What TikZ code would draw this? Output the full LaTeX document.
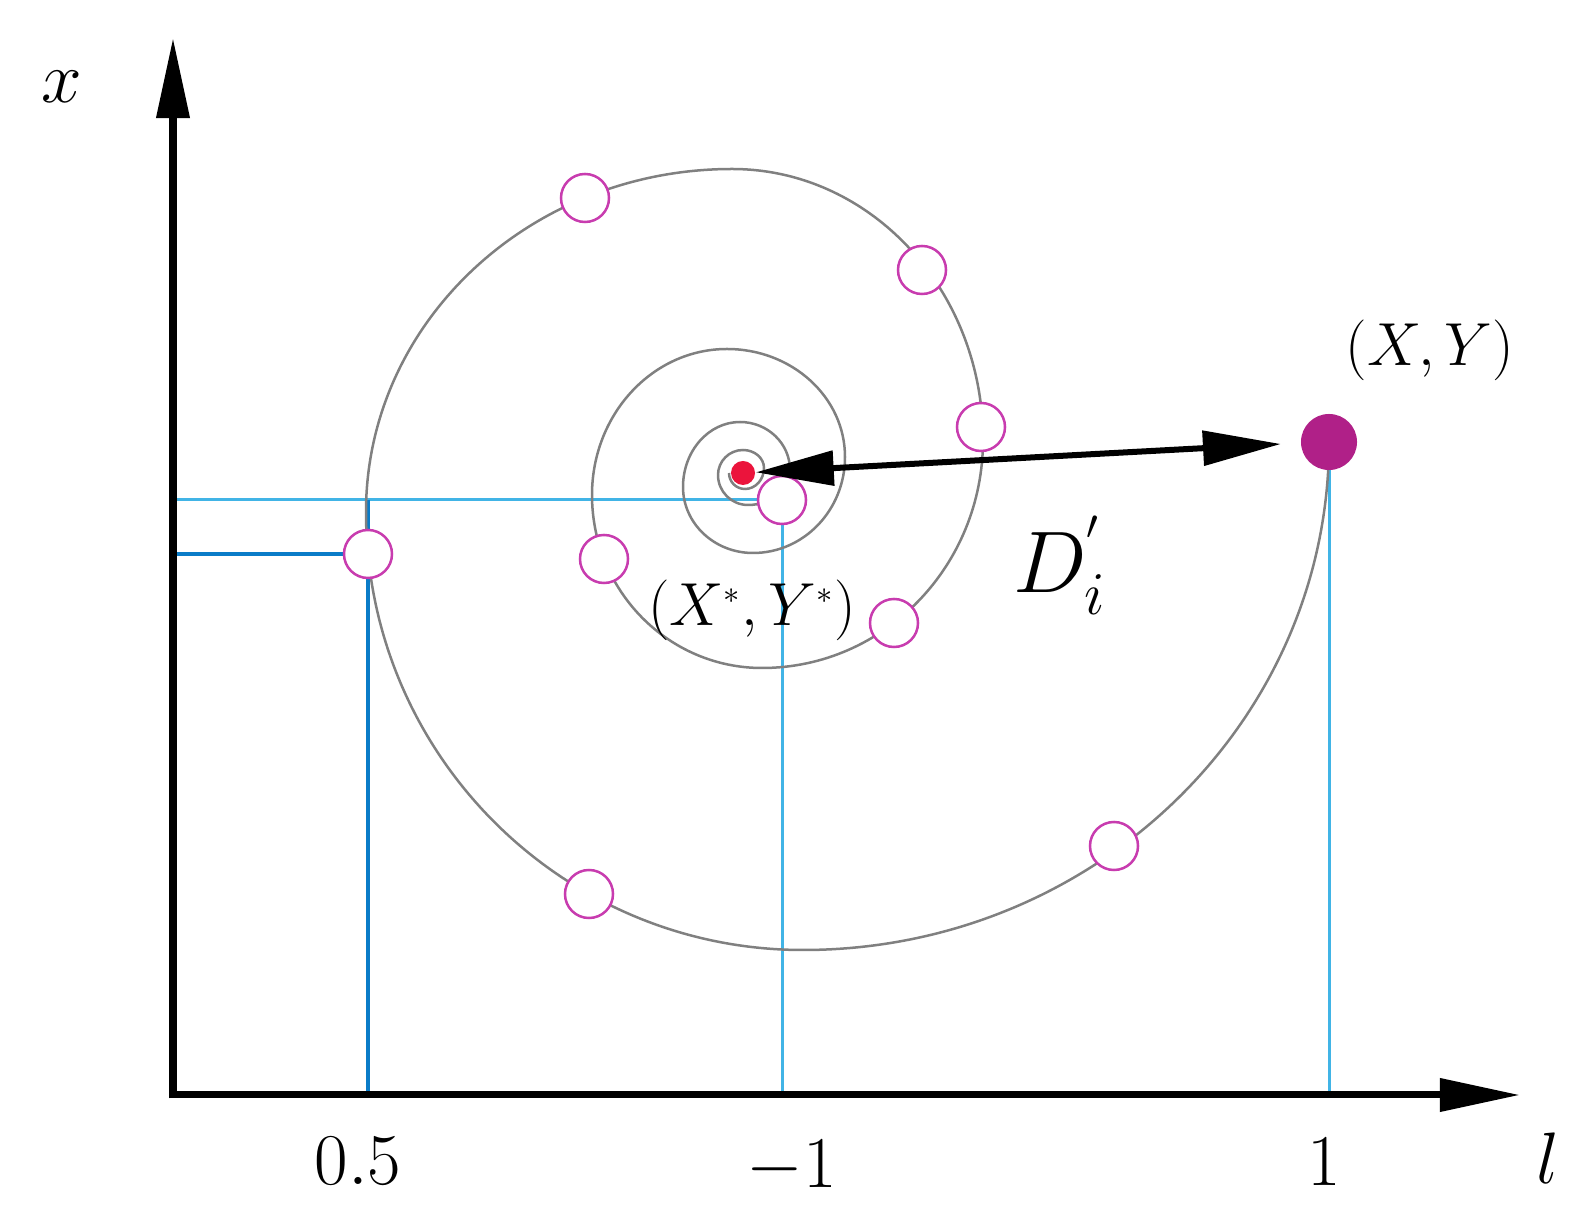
\documentclass[tikz,border=0pt]{standalone}
\usetikzlibrary{arrows.meta,calc}
\definecolor{lblue}{RGB}{65,180,230}
\definecolor{dblue}{RGB}{10,124,200}
\definecolor{mag}{RGB}{200,60,175}
\definecolor{purp}{RGB}{176,32,136}
\definecolor{rdot}{RGB}{235,20,60}
\definecolor{spir}{RGB}{128,128,128}
\begin{document}
\begin{tikzpicture}[x=0.01cm,y=-0.01cm,
  axisline/.style={line width=0.07cm, -{Triangle[length=0.8cm,width=0.32cm]}},
  lbl/.style={lblue, line width=0.03cm},
  dbl/.style={dblue, line width=0.04cm},
  samp/.style={circle, draw=mag, line width=0.025cm, fill=white, minimum size=0.48cm, inner sep=0pt},
  spiralline/.style={spir, line width=0.025cm},
  lab/.style={inner sep=0pt, font=\fontsize{20}{24}\selectfont},
  ptlab/.style={inner sep=0pt, font=\fontsize{19}{23}\selectfont},
  dist/.style={line width=0.06cm, {Triangle[length=0.78cm,width=0.34cm]}-{Triangle[length=0.78cm,width=0.34cm]}},
]
\useasboundingbox (0,0) rectangle (1593,1222);
% origin and axis ends
\coordinate (O) at (173,1095);
\coordinate (ytip) at (173,38);
\coordinate (xtip) at (1520,1095);
% sample circles positions (defined first as coordinates for lines)
\coordinate (p4) at (368,554);
\coordinate (p9) at (782,500);
\coordinate (pP) at (1329,442);
% blue projection lines
\draw[lbl] (O |- p9) -- ($(p9)+(-24,0)$);
\draw[lbl] ($(p9)+(0,24)$) -- (p9 |- O);
\draw[lbl] (pP) -- (pP |- O);
\draw[dbl] (O |- p4) -- (p4);
\draw[dbl] (p4 |- p9) -- (p4 |- O);
% spiral extremes (R = right, B = bottom, L = left, T = top)
\coordinate (R0) at (1329,442);
\coordinate (B0) at (803,950);
\coordinate (L0) at (366,512);
\coordinate (T0) at (732,169);
\coordinate (R1) at (983,440);
\coordinate (B1) at (762,668);
\coordinate (L1) at (592,495);
\coordinate (T1) at (727,349);
\coordinate (R2) at (845,457);
\coordinate (B2) at (753,553);
\coordinate (L2) at (683,487);
\coordinate (T2) at (740,422);
\coordinate (R3) at (790,470);
\coordinate (B3) at (748,505);
\coordinate (L3) at (718,475);
\coordinate (T3) at (743,450);
\coordinate (R4) at (764,468);
\coordinate (B4) at (745,489);
\coordinate (L4) at (729,473);
\def\kk{0.5523}
\draw[spiralline]
 (R0) .. controls ($(R0)!\kk!(R0|-B0)$) and ($(B0)!\kk!(R0|-B0)$) .. (B0)
      .. controls ($(B0)!\kk!(L0|-B0)$) and ($(L0)!\kk!(L0|-B0)$) .. (L0)
      .. controls ($(L0)!\kk!(L0|-T0)$) and ($(T0)!\kk!(L0|-T0)$) .. (T0)
      .. controls ($(T0)!\kk!(R1|-T0)$) and ($(R1)!\kk!(R1|-T0)$) .. (R1)
      .. controls ($(R1)!\kk!(R1|-B1)$) and ($(B1)!\kk!(R1|-B1)$) .. (B1)
      .. controls ($(B1)!\kk!(L1|-B1)$) and ($(L1)!\kk!(L1|-B1)$) .. (L1)
      .. controls ($(L1)!\kk!(L1|-T1)$) and ($(T1)!\kk!(L1|-T1)$) .. (T1)
      .. controls ($(T1)!\kk!(R2|-T1)$) and ($(R2)!\kk!(R2|-T1)$) .. (R2)
      .. controls ($(R2)!\kk!(R2|-B2)$) and ($(B2)!\kk!(R2|-B2)$) .. (B2)
      .. controls ($(B2)!\kk!(L2|-B2)$) and ($(L2)!\kk!(L2|-B2)$) .. (L2)
      .. controls ($(L2)!\kk!(L2|-T2)$) and ($(T2)!\kk!(L2|-T2)$) .. (T2)
      .. controls ($(T2)!\kk!(R3|-T2)$) and ($(R3)!\kk!(R3|-T2)$) .. (R3)
      .. controls ($(R3)!\kk!(R3|-B3)$) and ($(B3)!\kk!(R3|-B3)$) .. (B3)
      .. controls ($(B3)!\kk!(L3|-B3)$) and ($(L3)!\kk!(L3|-B3)$) .. (L3)
      .. controls ($(L3)!\kk!(L3|-T3)$) and ($(T3)!\kk!(L3|-T3)$) .. (T3)
      .. controls ($(T3)!\kk!(R4|-T3)$) and ($(R4)!\kk!(R4|-T3)$) .. (R4)
      .. controls ($(R4)!\kk!(R4|-B4)$) and ($(B4)!\kk!(R4|-B4)$) .. (B4)
      .. controls ($(B4)!\kk!(L4|-B4)$) and ($(L4)!\kk!(L4|-B4)$) .. (L4);
% axes
\draw[axisline] ($(O)+(0,3.5)$) -- (ytip);
\draw[axisline] ($(O)+(-3.5,0)$) -- (xtip);
% sample circles
\node[samp] (c1) at (585,198) {};
\node[samp] (c2) at (922,270) {};
\node[samp] (c3) at (981,427) {};
\node[samp] (c4) at (p4) {};
\node[samp] (c5) at (604,559) {};
\node[samp] (c6) at (894,623) {};
\node[samp] (c7) at (1114,846) {};
\node[samp] (c8) at (589,894) {};
\node[samp] (c9) at (p9) {};
% best and current points
\node[circle, fill=purp, minimum size=0.56cm, inner sep=0pt] (P) at (pP) {};
\node[circle, fill=rdot, minimum size=0.24cm, inner sep=0pt] (S) at (743,473) {};
\draw[dist] (S) -- ($(P)+(-48,2)$);
% labels
\node[lab] (xl) at (62,87) {$x$};
\node[lab] (ll) at (1548,1158) {$l$};
\node[lab] (t1) at (1324,1162) {$1$};
\node[lab] (t05) at (358,1161) {$0.5$};
\node[lab] (tm1) at (792,1167) {$-1$};
\node[ptlab] (XY) at (1430,350) {$(X,Y)$};
\node[ptlab] (XYs) at (752,610) {$(X^{\scriptscriptstyle *},Y^{\scriptscriptstyle *})$};
\node[inner sep=0pt, font=\fontsize{25}{30}\selectfont] (D) at (1060,565) {$D_i^{'}$};
\end{tikzpicture}
\end{document}
